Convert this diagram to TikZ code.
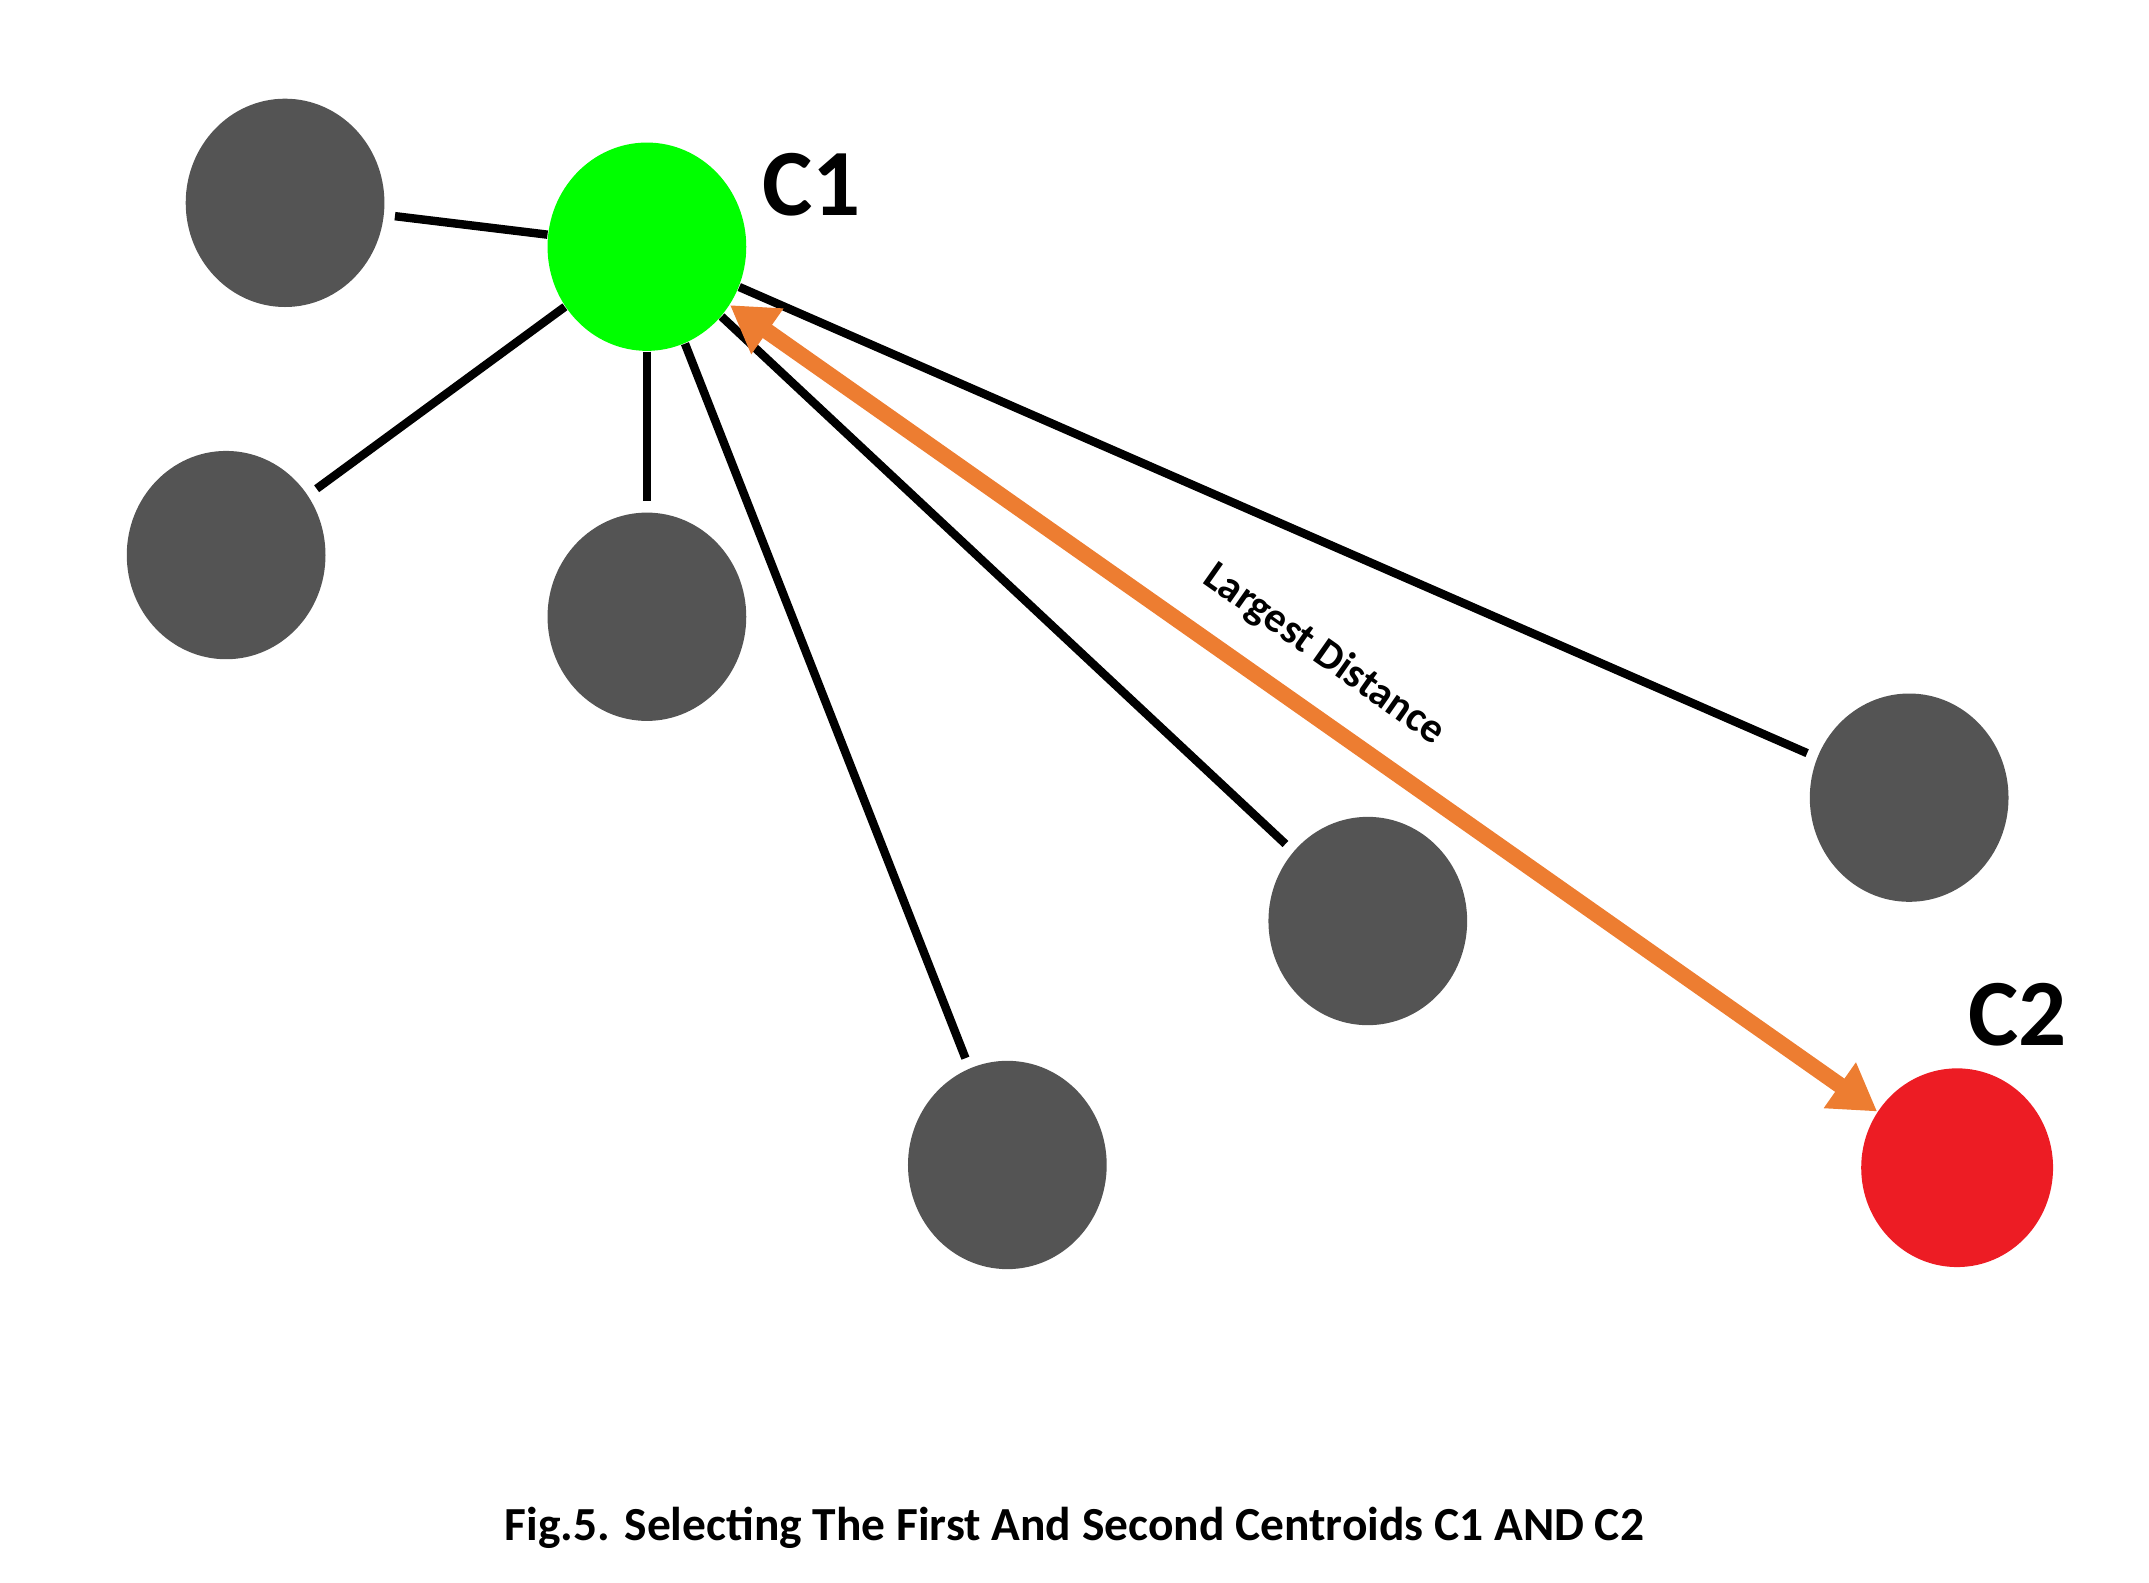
\documentclass[tikz,border=0pt]{standalone}
\usepackage{fontspec}
\setmainfont{Carlito}
\usetikzlibrary{shapes.geometric,arrows.meta}

\newlength{\px}
\setlength{\px}{0.013705cm}
\tikzset{
	dot/.style={ellipse, fill=black!67, minimum width=145\px, minimum height=152\px, inner sep=0pt},
	link/.style={line width=2.4pt, black, shorten >=3pt},
	far/.style={line width=4.6pt, draw={rgb,255:red,237;green,125;blue,49}, {Triangle[length=13pt,width=15pt]}-{Triangle[length=13pt,width=15pt]}},
}

\begin{document}
\begin{tikzpicture}[x=0.013705cm, y=-0.013705cm]
	\useasboundingbox (0,0) rectangle (1568,1155);
	
	\node[dot] (g1) at (208,148) {};
	\node[dot] (g2) at (165,405) {};
	\node[dot] (g3) at (472,450) {};
	\node[dot] (g4) at (735,850) {};
	\node[dot] (g5) at (998,672) {};
	\node[dot] (g6) at (1393,582) {};
	\node[dot, fill={rgb,255:red,0;green,255;blue,0}] (c1) at (472,180) {};
	\node[dot, fill={rgb,255:red,237;green,28;blue,36}, minimum width=140\px, minimum height=145\px] (c2) at (1428,852) {};
	
	\node[font=\bfseries\fontsize{27}{30}\selectfont] (l1) at (592,135) {C1};
	\node[font=\bfseries\fontsize{27}{30}\selectfont] (l2) at (1472,740) {C2};
	
	\foreach \n in {g1,g2,g3,g4,g5,g6}
		\draw[link] (c1) -- (\n);
	
	\draw[far] (c1) -- (c2)
		node[midway, sloped, above=5pt, xshift=-4pt, font=\bfseries\fontsize{12}{14}\selectfont] {Largest Distance};
	
	\node[font=\bfseries\fontsize{13.5}{16}\selectfont] (cap) at (784,1115) {Fig.5. Selecting The First And Second Centroids C1 AND C2};
\end{tikzpicture}
\end{document}
